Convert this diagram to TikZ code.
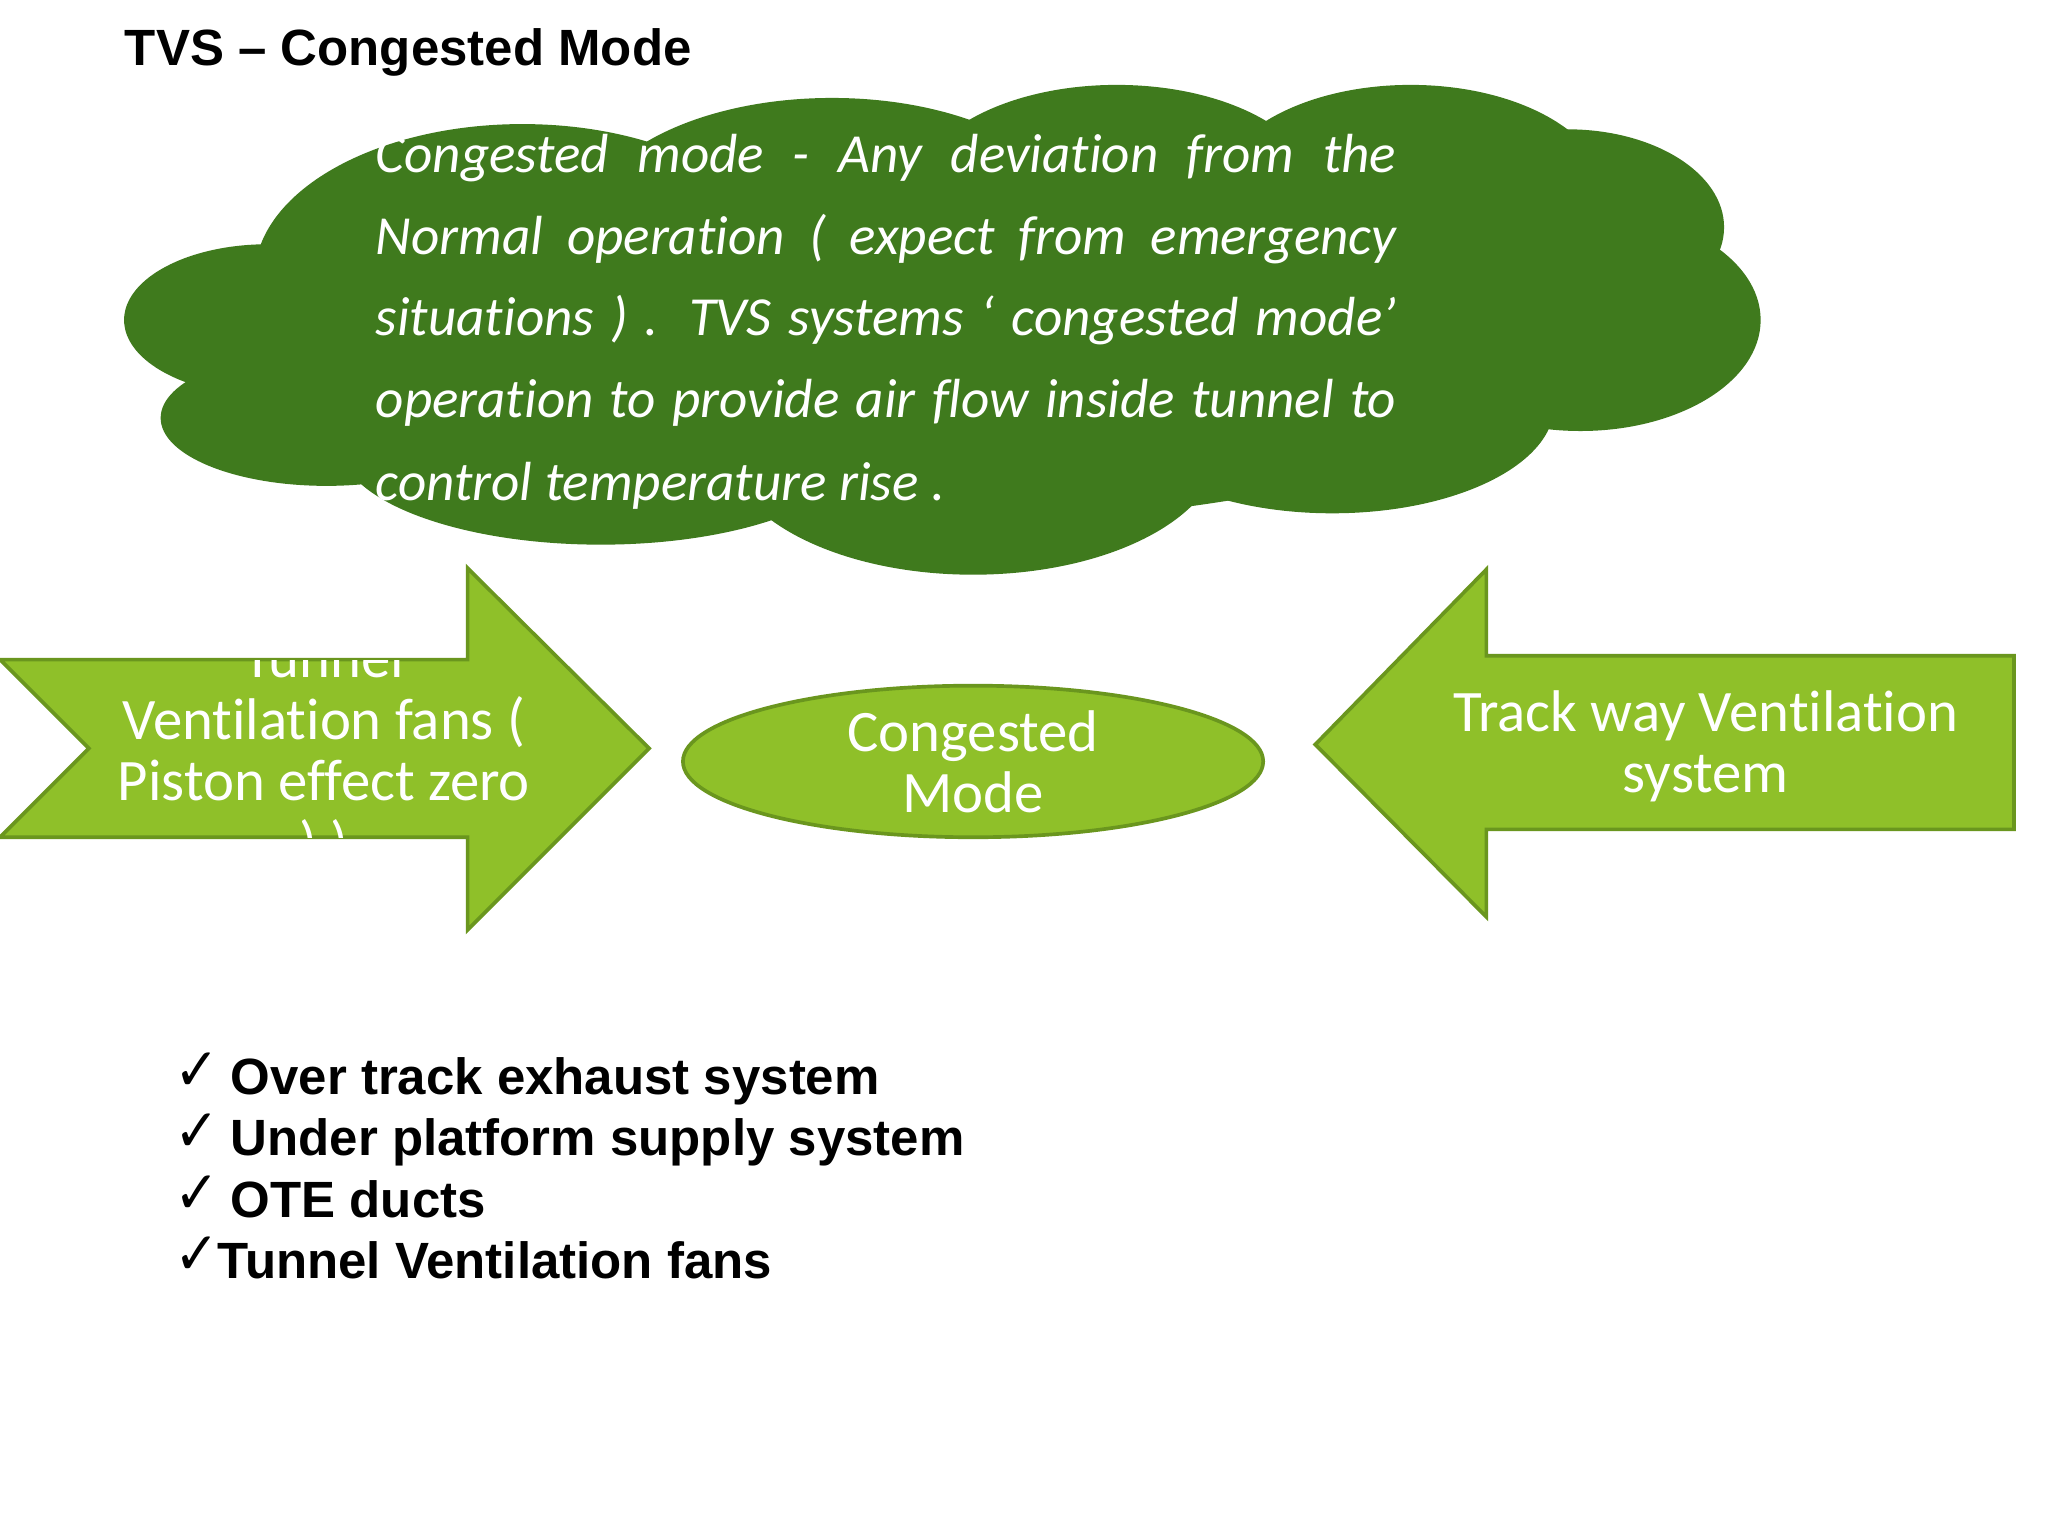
\documentclass[tikz,border=0pt]{standalone}
\usepackage{fontspec}
\setmainfont{Liberation Sans}
\newfontfamily\carl{Carlito}[Ligatures=NoCommon]
\newfontfamily\dejavu{DejaVu Sans}
\usetikzlibrary{shapes.geometric}
\definecolor{cloudgreen}{RGB}{63,122,29}
\definecolor{lightgreen}{RGB}{143,192,41}
\definecolor{edgegreen}{RGB}{106,150,30}
\tikzset{
  greenshape/.style={fill=lightgreen, draw=edgegreen, line width=0.8pt, line join=miter},
  cloudtext/.style={anchor=base west, inner sep=0pt, text=white, font=\carl\itshape\fontsize{12}{14}\selectfont},
  shapetext/.style={anchor=base, inner sep=0pt, text=white, font=\carl\fontsize{12.8}{14}\selectfont},
  listtext/.style={anchor=base west, inner sep=0pt, font=\bfseries\fontsize{11.1}{13}\selectfont},
  checkmark/.style={anchor=base west, inner sep=0pt, font=\dejavu\fontsize{13}{15}\selectfont},
}
\newcommand{\tick}{\scalebox{0.9}[1]{✓}}
\begin{document}
\begin{tikzpicture}[x=0.01cm, y=-0.01cm]
\fill[white] (0,0) rectangle (1568,1176);
\useasboundingbox (0,0) rectangle (1568,1176);

% title
\node[anchor=base west, inner sep=0pt, font=\bfseries\fontsize{11.1}{13}\selectfont] (title) at (95,50) {TVS – Congested Mode};

% cloud
\begin{scope}[fill=cloudgreen]
\fill (400,212) ellipse [x radius=205, y radius=117];
\fill (637,175) ellipse [x radius=190, y radius=100];
\fill (855,150) ellipse [x radius=155, y radius=85];
\fill (1080,150) ellipse [x radius=150, y radius=85];
\fill (1200,174) ellipse [x radius=120, y radius=75];
\fill (1210,245) ellipse [x radius=138, y radius=85];
\fill (1020,310) ellipse [x radius=170, y radius=83];
\fill (745,340) ellipse [x radius=190, y radius=100];
\fill (460,340) ellipse [x radius=200, y radius=77];
\fill (250,320) ellipse [x radius=127, y radius=52];
\fill (205,245) ellipse [x radius=110, y radius=58];
\fill (720,250) ellipse [x radius=480, y radius=150];
\end{scope}

\node[cloudtext] (c1) at (287,132) {\makebox[7.81cm][s]{Congested mode - Any deviation from the}};
\node[cloudtext] (c2) at (287,195) {\makebox[7.81cm][s]{Normal operation ( expect from emergency}};
\node[cloudtext] (c3) at (287,257) {\makebox[7.81cm][s]{situations ) . TVS systems ‘ congested mode’}};
\node[cloudtext] (c4) at (287,320) {\makebox[7.81cm][s]{operation to provide air flow inside tunnel to}};
\node[cloudtext] (c5) at (287,383) {control temperature rise .};

% left arrow (pointing right)
\path[greenshape] (0,505) -- (358,505) -- (358,435) -- (497,573) -- (358,712) -- (358,641) -- (0,641) -- (68,573) -- cycle;
\begin{scope}
\clip (0,505) -- (358,505) -- (358,435) -- (497,573) -- (358,712) -- (358,641) -- (0,641) -- (68,573) -- cycle;
\node[shapetext] (l1) at (248,519) {Tunnel};
\node[shapetext] (l2) at (248,566) {Ventilation fans (};
\node[shapetext] (l3) at (248,613) {Piston effect zero};
\node[shapetext] (l4) at (248,660) {) )};
\end{scope}

% centre ellipse
\node[ellipse, greenshape, minimum width=4.44cm, minimum height=1.16cm, inner sep=0pt] (mode) at (745,583) {};
\node[shapetext] (m1) at (745,575) {Congested};
\node[shapetext] (m2) at (745,622) {Mode};

% right arrow (pointing left)
\path[greenshape] (1542,502) -- (1138,502) -- (1138,436) -- (1007,570) -- (1138,702) -- (1138,635) -- (1542,635) -- cycle;
\node[shapetext] (r1) at (1306,560) {Track way Ventilation};
\node[shapetext] (r2) at (1306,607) {system};

% list
\node[checkmark] (k1) at (133,835) {\tick};
\node[listtext] (t1) at (176,838) {Over track exhaust system};
\node[checkmark] (k2) at (133,882) {\tick};
\node[listtext] (t2) at (176,885) {Under platform supply system};
\node[checkmark] (k3) at (133,929) {\tick};
\node[listtext] (t3) at (176,932) {OTE ducts};
\node[checkmark] (k4) at (133,976) {\tick};
\node[listtext] (t4) at (166,979) {Tunnel Ventilation fans};
\end{tikzpicture}
\end{document}
